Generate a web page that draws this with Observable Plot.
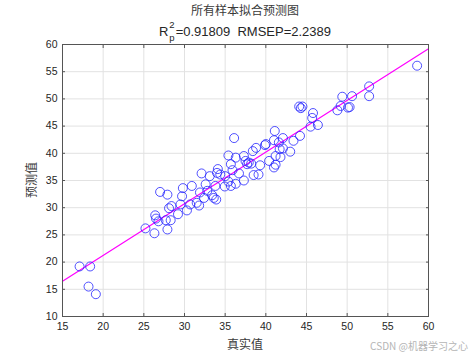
<!DOCTYPE html>
<html><head><meta charset="utf-8">
<script src="https://cdn.jsdelivr.net/npm/d3@7"></script>
<script src="https://cdn.jsdelivr.net/npm/@observablehq/plot@0.6"></script>
<style>
body{margin:0;background:#fff;}
#wrap{position:relative;width:474px;height:355px;overflow:hidden;background:#fff;}
.t{position:absolute;white-space:nowrap;color:#333;}
.cjk{font-family:'Noto Sans CJK SC';font-size:12px;line-height:16px;color:#3a3a3a;}
</style></head><body>
<div id="wrap">
<div id="chart"></div>
<div class="t cjk" style="left:0;width:490px;top:2px;text-align:center;">所有样本拟合预测图</div>
<div class="t" style="left:0;width:490px;top:18px;text-align:center;font-family:'Liberation Sans',Arial,sans-serif;font-size:13px;line-height:22px;color:#262626;">R<span style="display:inline-block;vertical-align:-5px;font-size:9.5px;line-height:13px;text-align:left;margin:0 1px 0 1px;"><span style="display:block">2</span><span style="display:block">p</span></span>=0.91809&nbsp;&nbsp;RMSEP=2.2389</div>
<div class="t cjk" style="left:0;width:490px;top:336px;text-align:center;">真实值</div>
<div class="t cjk" style="left:3px;top:172px;width:60px;text-align:center;transform:rotate(-90deg);transform-origin:30px 8px;left:1px;">预测值</div>
<div class="t" style="right:6px;top:339px;font-family:'Noto Sans CJK SC';font-size:10px;line-height:14px;color:#b5b5b5;">CSDN @机器学习之心</div>
</div>
<script>
const xTicks = [15,20,25,30,35,40,45,50,55,60];
const yTicks = [10,15,20,25,30,35,40,45,50,55,60];
const actual = [17.1,18.4,18.2,19.1,25.2,26.3,26.4,26.5,26.8,27.0,27.9,27.9,27.7,28.3,28.1,28.4,29.2,29.5,29.7,29.8,30.3,30.7,30.9,31.5,31.8,31.9,32.1,32.4,32.6,32.8,33.1,33.4,33.6,33.8,33.9,34.0,34.4,34.1,34.95,35.0,35.4,35.7,36.3,36.7,37.3,38.5,39.1,37.5,36.1,35.4,36.3,37.3,38.4,38.8,39.9,41.1,41.0,41.6,42.1,41.7,42.1,41.2,41.8,43.0,43.4,44.2,45.5,46.4,37.9,38.2,39.3,40.4,41.0,41.2,35.7,35.9,37.7,58.6,52.7,52.7,49.4,50.6,49.2,50.1,50.3,48.8,44.1,44.3,44.5,45.8,45.7,40.0];
const predicted = [19.2,19.2,15.5,14.1,26.2,25.3,28.6,28.0,27.5,32.9,32.4,26.0,27.7,27.7,29.9,30.3,28.8,30.6,32.1,33.6,29.5,30.6,34.0,30.9,30.4,32.8,36.3,31.8,34.3,33.1,35.8,32.3,31.8,34.0,31.5,36.4,36.1,37.1,33.9,35.8,34.8,34.0,34.4,36.3,35.0,36.0,36.1,38.6,42.8,39.6,39.2,39.5,40.4,41.0,41.5,44.1,42.4,42.0,42.8,40.75,40.9,39.5,39.3,40.3,42.3,43.2,44.9,45.2,38.3,38.1,37.8,38.6,37.4,37.9,38.0,36.9,38.0,56.1,52.3,50.5,50.4,50.5,48.7,48.4,48.5,47.9,48.6,48.3,48.6,47.4,46.5,41.7];
const fitX = [15,60];
const fitY = [16.5,59.2];

const data = actual.map((a,i)=>({actual:a, predicted:predicted[i]}));
const fit = fitX.map((x,i)=>({x, y:fitY[i]}));

const chart = Plot.plot({
  width:474, height:355,
  marginLeft:62, marginRight:46, marginTop:44, marginBottom:39,
  style:{fontFamily:"'Liberation Sans', Arial, sans-serif", fontSize:"10.5px", color:"#262626", background:"transparent", overflow:"visible"},
  x:{domain:[15,60], label:null},
  y:{domain:[10,60], label:null},
  marks:[
    Plot.gridX(xTicks,{stroke:"#e2e2e2", strokeOpacity:1}),
    Plot.gridY(yTicks,{stroke:"#e2e2e2", strokeOpacity:1}),
    Plot.line(fit,{x:"x", y:"y", stroke:"#ff00ff", strokeWidth:1.2}),
    Plot.dot(data,{x:"actual", y:"predicted", r:4.5, stroke:"#2424ff", fill:"none", strokeWidth:0.8}),
    Plot.frame({stroke:"#555", strokeWidth:1}),
    Plot.axisX(xTicks,{anchor:"bottom", tickSize:-3, tickPadding:9, label:null, stroke:"#555"}),
    Plot.axisY(yTicks,{anchor:"left", tickSize:-3, tickPadding:8, label:null, stroke:"#555"}),
    Plot.axisX(xTicks,{anchor:"top", tickSize:-3, tickFormat:()=>"", label:null, stroke:"#555"}),
    Plot.axisY(yTicks,{anchor:"right", tickSize:-3, tickFormat:()=>"", label:null, stroke:"#555"})
  ]
});
document.getElementById("chart").appendChild(chart);
</script>
</body></html>
